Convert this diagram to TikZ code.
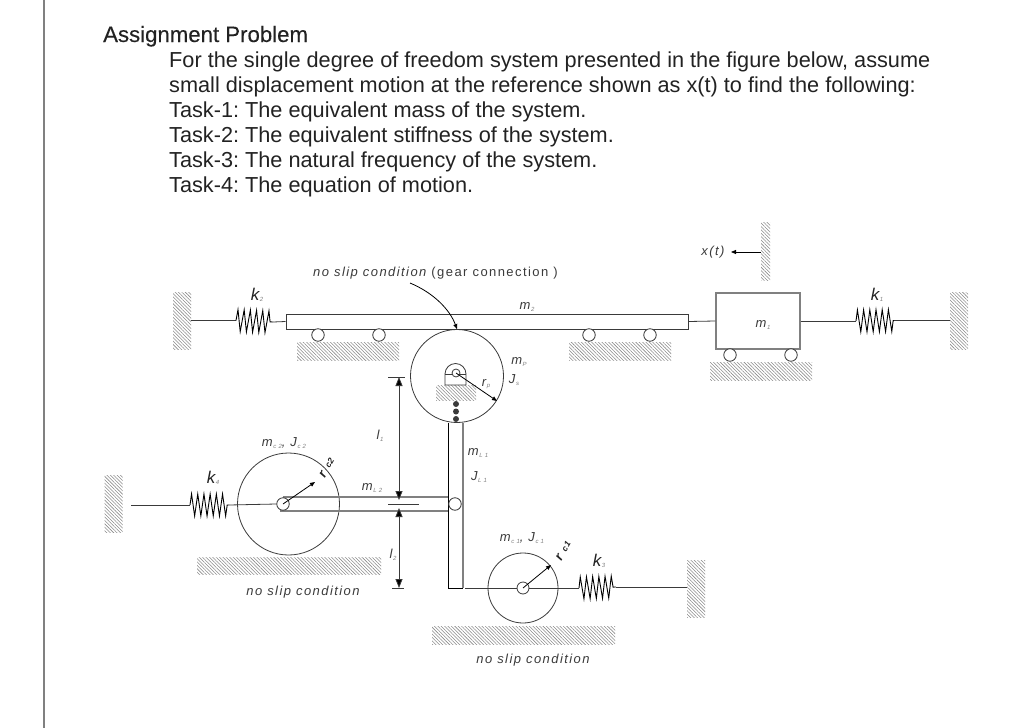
\documentclass[tikz,border=0pt]{standalone}
\usepackage{fontspec}
\setmainfont{Liberation Sans}
\newfontfamily\dfont[LetterSpace=11]{Liberation Sans}
\newfontfamily\sfont[LetterSpace=35]{Liberation Sans}
\newfontfamily\tfont[FakeBold=0.2]{Liberation Sans}
\usetikzlibrary{arrows.meta,patterns.meta,decorations.pathmorphing}
\definecolor{ink}{HTML}{222222}
\definecolor{dia}{HTML}{3A3A3A}
\definecolor{hatchc}{HTML}{8A8A8A}
\newcommand{\sm}[1]{\kern.6pt\raisebox{-1.5pt}{\sfont\itshape\fontsize{6}{6}\selectfont\color{gray}#1}}
\frenchspacing
\tikzset{
 body/.style={anchor=base west,inner sep=0,text=ink,font=\fontsize{21.7}{24}\selectfont},
 lab/.style={inner sep=0,text=dia,font=\dfont\itshape\fontsize{13}{15}\selectfont},
 biglab/.style={inner sep=0,text=ink,font=\dfont\itshape\fontsize{17}{18}\selectfont},
 rlab/.style={inner sep=0,text=ink,rotate=60,font=\bfseries\itshape\fontsize{13}{14}\selectfont},
 rsub/.style={inner sep=0,text=ink,rotate=60,font=\bfseries\itshape\fontsize{8.5}{9}\selectfont},
 hatch/.style={draw=none,inner sep=0,pattern={Lines[angle=-45,distance=2.4pt,line width=.55pt]},pattern color=hatchc},
 thin line/.style={draw=dia,line width=.8pt},
 heavy line/.style={draw=gray,line width=1.4pt},
 wheel/.style={circle,draw=dia,line width=.8pt,fill=white,inner sep=0},
 disk/.style={circle,draw=dia,line width=.8pt,inner sep=0},
 beam/.style={rectangle,draw=dia,line width=1pt,inner sep=0},
 spring/.style={draw=black,line width=.9pt,decorate,decoration={zigzag,segment length=6.2pt,amplitude=11pt}},
 dim/.style={draw=dia,line width=.8pt,-{Triangle[length=9pt,width=7pt,fill=black]}},
 small arrow/.style={draw=black,line width=.8pt,-{Triangle[length=5pt,width=4pt,fill=black]}}
}
\begin{document}
\begin{tikzpicture}[x=1pt,y=-1pt]
\useasboundingbox (0,0) rectangle (1015,728);
\draw[gray,line width=1.5pt] (44,0) -- (44,728);
% text
\node[body,font=\tfont\fontsize{22.2}{24}\selectfont] (title) at (103,42) {Assignment Problem};
\node[body] (t1) at (169,67) {For the single degree of freedom system presented in the figure below, assume};
\node[body] (t2) at (169,92) {small displacement motion at the reference shown as x(t) to find the following:};
\node[body] (t3) at (169,117) {Task-1: The equivalent mass of the system.};
\node[body] (t4) at (169,142) {Task-2: The equivalent stiffness of the system.};
\node[body] (t5) at (169,167) {Task-3: The natural frequency of the system.};
\node[body] (t6) at (169,192) {Task-4: The equation of motion.};
% hatches
\node[hatch,minimum width=18pt,minimum height=57pt] (w2) at (182,320.5) {};
\node[hatch,minimum width=18pt,minimum height=57pt] (w1) at (959,320.5) {};
\node[hatch,minimum width=9pt,minimum height=58pt] (wx) at (765.5,251) {};
\node[hatch,minimum width=102pt,minimum height=18pt] (g1) at (348,351) {};
\node[hatch,minimum width=102pt,minimum height=18pt] (g2) at (620,351) {};
\node[hatch,minimum width=102pt,minimum height=18pt] (g3) at (761,371) {};
\node[hatch,minimum width=40pt,minimum height=15pt] (g4) at (456,392.5) {};
\node[hatch,minimum width=18pt,minimum height=57pt] (w4) at (113.5,504) {};
\node[hatch,minimum width=184pt,minimum height=17pt] (g5) at (289,565.5) {};
\node[hatch,minimum width=18pt,minimum height=57pt] (w3) at (696,588.5) {};
\node[hatch,minimum width=183pt,minimum height=18pt] (g6) at (523.5,635) {};
% beams and mass
\node[beam,minimum width=402pt,minimum height=15pt] (bar) at (487,321.5) {};
\node[beam,draw=gray,line width=1.3pt,minimum width=84pt,minimum height=56pt] (mass) at (758,321) {};
% rollers
\node[wheel,minimum size=12.5pt] (ra) at (318,335) {};
\node[wheel,minimum size=12.5pt] (rb) at (379,335) {};
\node[wheel,minimum size=12.5pt] (rc) at (589,335) {};
\node[wheel,minimum size=12.5pt] (rd) at (650,335) {};
\node[wheel,minimum size=12.5pt] (re) at (730,355) {};
\node[wheel,minimum size=12.5pt] (rf) at (791,355) {};
% spring anchor points
\coordinate (s2a) at (236,320.5); \coordinate (s2b) at (273,322);
\coordinate (s1a) at (856,321); \coordinate (s1b) at (894,320.5);
\coordinate (s4a) at (190,505); \coordinate (s4b) at (229,505);
\coordinate (s3a) at (579,588); \coordinate (s3b) at (616,587);
\coordinate (w4end) at (131,505);
% top springs and connectors
\draw[thin line] (w2.east) -- (s2a);
\draw[spring] (s2a) -- (s2b);
\draw[thin line] (s2b) -- (bar.west);
\draw[thin line] (bar.east) -- (mass.west);
\draw[thin line] (mass.east) -- (s1a);
\draw[spring] (s1a) -- (s1b);
\draw[thin line] (s1b) -- (w1.west);
% gear
\node[disk,minimum size=93pt] (gear) at (457,376) {};
\coordinate (hL) at (445,374); \coordinate (hR) at (466,374);
\draw[thin line] (445,385) -- (hL) arc[start angle=180,end angle=360,radius=10.5] -- (466,385) -- cycle;
\draw[thin line] (hL) -- (hR);
\node[wheel,minimum size=8pt] (pin) at (456,373) {};
\coordinate (rpEnd) at (497,401);
\draw[small arrow] (pin.center) -- (rpEnd);
\foreach \n/\yy in {d1/404,d2/411.5,d3/419}{\node[circle,fill=dia,inner sep=0,minimum size=6pt] (\n) at (456,\yy) {};}
% vertical link
\coordinate (vLt) at (448,423); \coordinate (vLb) at (448,588);
\coordinate (vRt) at (463,423); \coordinate (vRb) at (463,588);
\draw[draw=black,line width=.9pt] (vLt) -- (vLb) -- (vRb);
\draw[heavy line] (vRt) -- (vRb);
% left disk and link
\node[disk,minimum size=102pt] (dtwo) at (288.5,504) {};
\coordinate (lTl) at (283,497); \coordinate (lTr) at (448,497);
\coordinate (lBl) at (280,511); \coordinate (lBr) at (448,511);
\draw[draw=gray,line width=1.2pt] (lTl) -- (lTr);
\draw[draw=gray,line width=1.2pt] (lBl) -- (lBr);
\node[wheel,minimum size=12.5pt] (jr) at (455,504) {};
\node[wheel,minimum size=12.5pt] (pl) at (283,504) {};
\coordinate (rc2) at (315,482);
\draw[small arrow] (pl.center) -- (rc2);
\draw[thin line] (w4end) -- (s4a);
\draw[spring] (s4a) -- (s4b);
\draw[thin line] (s4b) -- (pl.west);
% lower disk
\node[disk,minimum size=70pt] (done) at (523,588) {};
\node[wheel,minimum size=12pt] (p1) at (523,588) {};
\coordinate (rc1) at (551,565);
\draw[small arrow] (p1.center) -- (rc1);
\coordinate (d1in) at (465,588);
\draw[thin line] (d1in) -- (p1.west);
\draw[thin line] (p1.east) -- (s3a);
\draw[spring] (s3a) -- (s3b);
\draw[thin line] (s3b) -- (s3b -| w3.west);
% dimensions
\coordinate (t1a) at (388,377); \coordinate (t1b) at (405,377);
\coordinate (ma) at (388,504); \coordinate (mb) at (419,504);
\coordinate (t2a) at (392,588); \coordinate (t2b) at (404,588);
\coordinate (dTop) at (399,377); \coordinate (dBot) at (399,588);
\coordinate (dU) at (399,500); \coordinate (dL) at (399,508); \coordinate (dV) at (399,436);
\coordinate (dW) at (399,556);
\draw[thin line] (t1a) -- (t1b);
\draw[thin line] (ma) -- (mb);
\draw[thin line] (t2a) -- (t2b);
\draw[dim] (dV) -- (dTop);
\draw[dim] (dV) -- (dU);
\draw[dim] (dW) -- (dL);
\draw[dim] (dW) -- (dBot);
% displacement
\coordinate (xTip) at (731,252);
\draw[small arrow] (wx.west |- xTip) -- (xTip);
% gear-connection leader
\coordinate (ldr) at (410,283);
\draw[small arrow] (ldr) .. controls (434,293) and (450,310) .. (gear.north);
% labels
\node[lab,anchor=west] (lgear) at (313,273) {no slip condition {\upshape (gear connection )}};
\node[lab] (lx) at (713,252) {x(t)};
\node[biglab] (lk2) at (257,295) {k\sm{2}};
\node[biglab] (lk1) at (877,295) {k\sm{1}};
\node[lab] (lm2) at (527,307) {m\sm{2}};
\node[lab] (lm1) at (763,325) {m\sm{1}};
\node[lab] (lmp) at (519,362) {m\sm{P}};
\node[lab] (ljp) at (514,380) {J\sm{s}};
\node[lab] (lrp) at (486,384) {r\sm{p}};
\node[lab] (lc2) at (284,443) {m\sm{c2}, J\sm{c2}};
\node[biglab] (lk4) at (213,478) {k\sm{4}};
\node[lab] (lm12) at (372,488) {m\sm{L2}};
\node[lab] (ll1) at (380,436) {l\sm{1}};
\node[lab] (ll2) at (393,555) {l\sm{2}};
\node[lab] (lm11) at (478,453) {m\sm{L1}};
\node[lab] (lj11) at (479,477) {J\sm{L1}};
\node[lab] (lc1) at (522,538) {m\sm{c1}, J\sm{c1}};
\node[biglab] (lk3) at (599,561) {k\sm{3}};
\node[rlab] (lr2) at (323,474.5) {r};
\node[rsub] (lr2s) at (329.5,463) {c2};
\node[rlab] (lr1) at (559.5,558) {r};
\node[rsub] (lr1s) at (566,546.5) {c1};
\node[lab] (ln1) at (303,592) {no slip condition};
\node[lab] (ln2) at (533,660) {no slip condition};
\end{tikzpicture}
\end{document}
